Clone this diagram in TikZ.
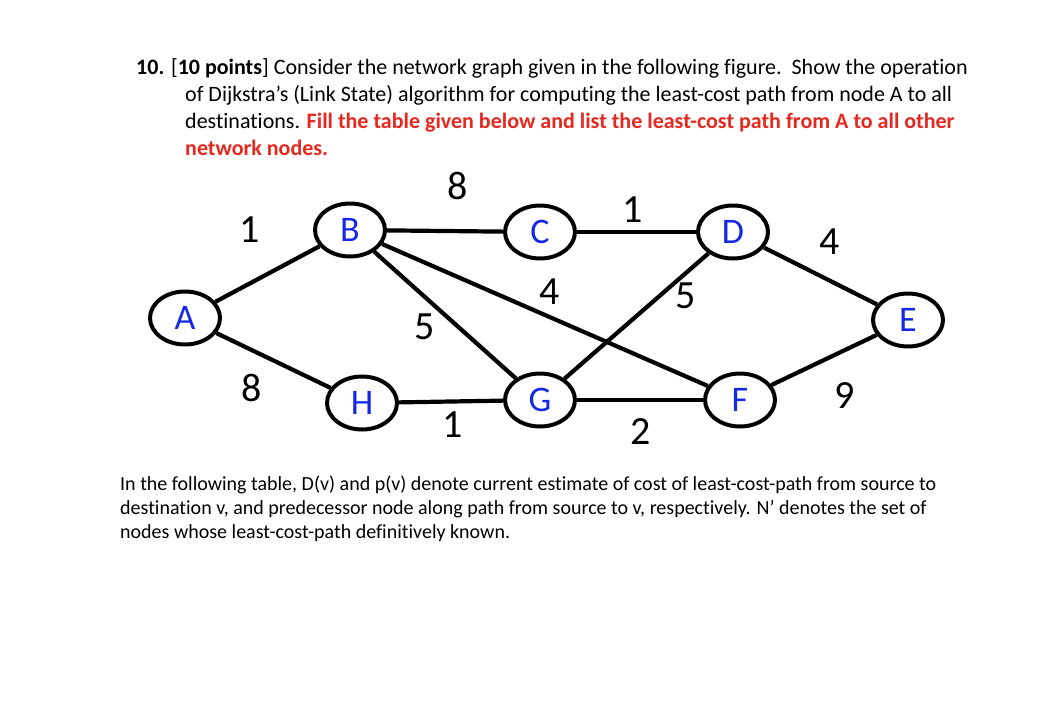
\documentclass[tikz,border=0pt]{standalone}
\usepackage{fontspec}
\setmainfont{Carlito}[RawFeature={-liga}]
\usetikzlibrary{shapes.geometric}
\definecolor{nblue}{RGB}{20,40,230}
\definecolor{tred}{RGB}{230,40,30}
\begin{document}
\begin{tikzpicture}[x=1pt,y=-1pt,
  gn/.style={ellipse,draw,line width=4pt,minimum width=70pt,minimum height=53pt,inner sep=0pt,font=\fontsize{36}{36}\selectfont,text=nblue},
  ed/.style={line width=4.2pt},
  wl/.style={font=\fontsize{40}{40}\selectfont},
  tx/.style={anchor=north west,inner sep=0pt,align=left}]
\useasboundingbox (0,0) rectangle (1052,710);
\node[tx,font=\fontsize{22}{27}\selectfont] (q) at (136,58) {\textbf{10.} [\textbf{10 points}] Consider the network graph given in the following figure.\ \ Show the operation\\
\hspace*{49pt}of Dijkstra’s (Link State) algorithm for computing the least-cost path from node A to all\\
\hspace*{49pt}destinations. \textcolor{tred}{\textbf{Fill the table given below and list the least-cost path from A to all other}}\\
\hspace*{49pt}\textcolor{tred}{\textbf{network nodes.}}};
\node[gn] (A) at (185,318) {A};
\node[gn] (B) at (350,230) {B};
\node[gn] (C) at (540,232) {C};
\node[gn] (D) at (733,232) {D};
\node[gn] (E) at (908,320) {E};
\node[gn] (H) at (362,403) {H};
\node[gn] (G) at (540,400) {G};
\node[gn] (F) at (740,400) {F};
\draw[ed] (A)--(B); \draw[ed] (A)--(H); \draw[ed] (B)--(C); \draw[ed] (C)--(D);
\draw[ed] (D)--(E); \draw[ed] (B)--(G); \draw[ed] (B)--(F); \draw[ed] (D)--(G);
\draw[ed] (H)--(G); \draw[ed] (G)--(F); \draw[ed] (F)--(E);
\node[wl] (w1) at (250,230) {1};
\node[wl] (w2) at (458,186) {8};
\node[wl] (w3) at (633,210) {1};
\node[wl] (w4) at (830,242) {4};
\node[wl] (w5) at (550,292) {4};
\node[wl] (w6) at (686,296) {5};
\node[wl] (w7) at (425,327) {5};
\node[wl] (w8) at (252,388) {8};
\node[wl] (w9) at (845,396) {9};
\node[wl] (w10) at (453,425) {1};
\node[wl] (w11) at (641,432) {2};
\node[tx,font=\fontsize{20}{24}\selectfont] (t) at (120,476) {In the following table, D(v) and p(v) denote current estimate of cost of least-cost-path from source to\\
destination v, and predecessor node along path from source to v, respectively. N’ denotes the set of\\
nodes whose least-cost-path definitively known.};
\end{tikzpicture}
\end{document}
